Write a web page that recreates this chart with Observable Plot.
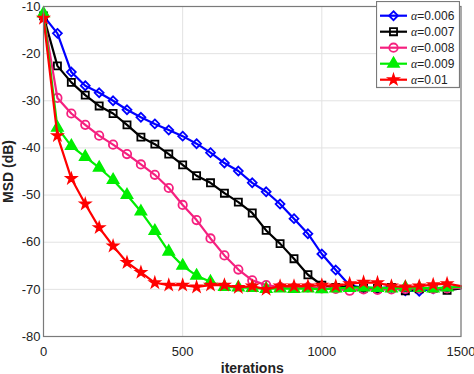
<!DOCTYPE html>
<html><head><meta charset="utf-8">
<script src="https://cdn.jsdelivr.net/npm/d3@7"></script>
<script src="https://cdn.jsdelivr.net/npm/@observablehq/plot@0.6"></script>
<style>
body{margin:0;background:#fff;}
#wrap{position:relative;width:474px;height:374px;overflow:hidden;background:#fff;}
#legend{position:absolute;left:376px;top:1px;}
</style></head><body><div id="wrap"></div>
<script>
const iterations = [0,50,100,150,200,250,300,350,400,450,500,550,600,650,700,750,800,850,900,950,1000,1050,1100,1150,1200,1250,1300,1350,1400,1450,1500];
const msd006 = [-12.0,-15.7,-23.9,-26.8,-28.3,-30.0,-31.9,-33.5,-34.9,-36.2,-37.5,-39.1,-41.0,-43.2,-44.9,-47.4,-49.3,-51.9,-55.0,-58.2,-62.5,-65.9,-69.2,-69.6,-69.8,-69.6,-70.3,-70.4,-69.9,-69.7,-69.6];
const msd007 = [-12.0,-22.6,-26.1,-28.8,-31.1,-32.7,-35.1,-37.7,-39.2,-41.3,-43.6,-45.9,-47.4,-49.6,-51.5,-53.8,-57.5,-60.3,-63.5,-66.9,-69.1,-69.6,-69.4,-69.7,-69.8,-69.6,-70.3,-69.9,-69.8,-70.2,-69.8];
const msd008 = [-12.0,-29.4,-32.7,-35.1,-37.4,-39.3,-41.3,-43.5,-45.7,-48.5,-52.1,-55.3,-59.2,-62.8,-65.8,-68.1,-69.1,-69.5,-69.7,-69.6,-69.8,-69.9,-70.3,-70.0,-70.1,-70.0,-69.9,-69.8,-69.9,-69.8,-69.7];
const msd009 = [-11.5,-35.7,-39.6,-41.9,-44.2,-46.8,-50.0,-53.5,-57.6,-62.0,-65.0,-67.1,-68.4,-69.5,-69.6,-69.7,-69.9,-69.8,-69.9,-69.8,-70.0,-69.8,-69.7,-69.6,-69.7,-69.8,-69.6,-69.7,-69.8,-69.6,-69.5];
const msd010 = [-12.5,-37.4,-46.5,-51.9,-56.9,-60.8,-64.3,-66.4,-68.6,-69.1,-69.1,-69.5,-69.1,-69.1,-69.6,-69.3,-70.0,-69.3,-69.3,-69.3,-69.1,-69.3,-68.8,-68.5,-68.6,-69.3,-69.5,-69.3,-69.0,-68.8,-69.3];
const alphaValues = ["0.006","0.007","0.008","0.009","0.01"];
const colors = ["#0000ff","#000000","#f5207f","#00ee00","#ff0000"];
const symbols = ["diamond2","square","circle","triangle","star"];
const filled = [false,false,false,true,true];
const radii = [4,4,4.2,4,3];
const xTicks = [0,500,1000,1500];
const yTicks = [-80,-70,-60,-50,-40,-30,-20,-10];

const series = [msd006,msd007,msd008,msd009,msd010];
const rows = series.flatMap((s,k)=>s.map((v,j)=>({it:iterations[j], msd:v, k})));

const seriesMarks = series.flatMap((s,k)=>{
  const data = rows.filter(d=>d.k===k);
  return [
    Plot.line(data,{x:"it",y:"msd",stroke:colors[k],strokeWidth:2.2}),
    Plot.dot(data.filter(d=>d.it<1500),{x:"it",y:"msd",symbol:symbols[k],r:radii[k],stroke:colors[k],strokeWidth:1.8,fill:filled[k]?colors[k]:"none"})
  ];
});

const chart = Plot.plot({
  width:474, height:374,
  marginLeft:43, marginRight:13.5, marginTop:6, marginBottom:38,
  style:{fontFamily:"'Liberation Sans', Arial, sans-serif", fontSize:"13px", color:"#222", background:"#fff"},
  x:{domain:[0,1500]},
  y:{domain:[-80,-10]},
  marks:[
    Plot.gridX(xTicks,{stroke:"#e2e2e2",strokeOpacity:1}),
    Plot.gridY(yTicks,{stroke:"#e2e2e2",strokeOpacity:1}),
    Plot.axisX(xTicks,{tickSize:0,tickPadding:10,tickFormat:d=>String(d),label:"iterations",labelAnchor:"center",labelOffset:36,labelArrow:"none"}),
    Plot.axisY(yTicks,{tickSize:0,tickPadding:3,tickFormat:d=>String(d),label:"MSD (dB)",labelAnchor:"center",labelOffset:40,labelArrow:"none"}),
    ...seriesMarks,
    Plot.frame({stroke:"#7a7a7a",strokeWidth:1.2})
  ]
});
document.getElementById("wrap").appendChild(chart);
d3.select(chart).selectAll('[aria-label="x-axis label"] text, [aria-label="y-axis label"] text')
  .attr("font-weight","bold").attr("font-size","14px").style("font-weight","bold").style("font-size","14px");
d3.select(chart).selectAll('[aria-label="x-axis label"], [aria-label="y-axis label"]')
  .attr("font-weight","bold").attr("font-size","14px");

// legend
const lg = d3.select("#wrap").append("svg").attr("id","legend").attr("width",84).attr("height",88);
lg.append("rect").attr("x",0.5).attr("y",0.5).attr("width",83).attr("height",86).attr("fill","#fff").attr("stroke","#7a7a7a").attr("stroke-width",1.2);
const symMap = {diamond2:d3.symbolDiamond2, square:d3.symbolSquare, circle:d3.symbolCircle, triangle:d3.symbolTriangle, star:d3.symbolStar};
alphaValues.forEach((a,k)=>{
  const g = lg.append("g").attr("transform",`translate(0,${14.7+16*k})`);
  g.append("line").attr("x1",4).attr("x2",31).attr("stroke",colors[k]).attr("stroke-width",2.2);
  g.append("path").attr("transform","translate(17.5,0)")
    .attr("d",d3.symbol(symMap[symbols[k]], Math.PI*radii[k]*radii[k])())
    .attr("stroke",colors[k]).attr("stroke-width",1.8).attr("fill",filled[k]?colors[k]:"none");
  const t = g.append("text").attr("x",35).attr("dy","0.35em").attr("font-family","'Liberation Sans', Arial, sans-serif").attr("font-size","12px").attr("fill","#222");
  t.append("tspan").attr("font-family","'Liberation Serif', serif").attr("font-style","italic").text("α");
  t.append("tspan").text("=" + a);
});
</script></body></html>
